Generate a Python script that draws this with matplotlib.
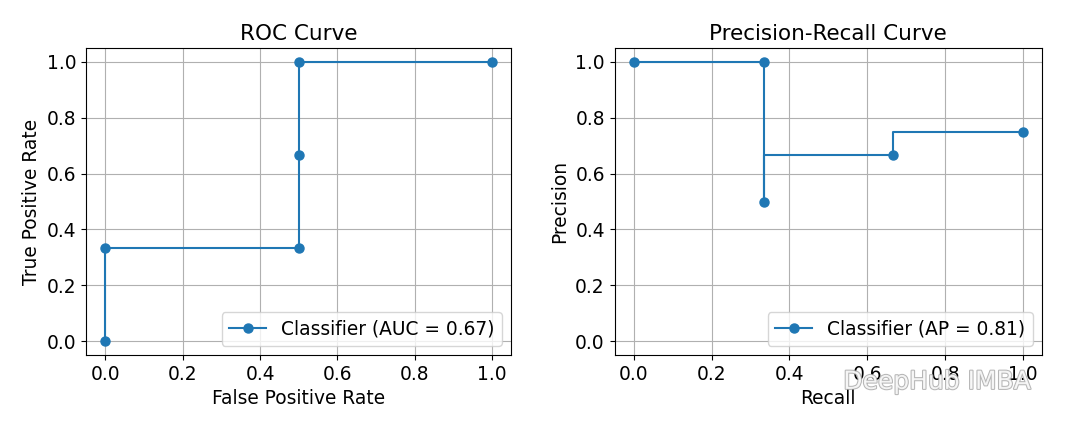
import matplotlib.pyplot as plt
import matplotlib.patheffects as pe

# ROC curve points
fpr = [0.0, 0.0, 0.5, 0.5, 0.5, 1.0]
tpr = [0.0, 1/3, 1/3, 2/3, 1.0, 1.0]
roc_auc = 0.67

# Precision-recall points (sklearn order)
recall = [1.0, 2/3, 1/3, 1/3, 0.0]
precision = [0.75, 2/3, 0.5, 1.0, 1.0]
avg_prec = 0.81

fs = 13.4
plt.rcParams['font.size'] = fs

fig = plt.figure(figsize=(10.8, 4.32), dpi=100)
ax1 = fig.add_axes([0.0796, 0.178, 0.394, 0.711])
ax2 = fig.add_axes([0.569, 0.178, 0.396, 0.711])

# ROC
ax1.plot(fpr, tpr, marker='o', color='#1f77b4', lw=1.5, ms=6.5,
         label=f'Classifier (AUC = {roc_auc:.2f})')
ax1.set_title('ROC Curve', fontsize=15.5)
ax1.set_xlabel('False Positive Rate', fontsize=fs)
ax1.set_ylabel('True Positive Rate', fontsize=fs)
ax1.legend(loc='lower right', fontsize=fs)
ax1.grid(True)

# Precision-Recall
ax2.plot(recall, precision, marker='o', color='#1f77b4', lw=1.5, ms=6.5,
         drawstyle='steps-post', label=f'Classifier (AP = {avg_prec:.2f})')
ax2.set_title('Precision-Recall Curve', fontsize=15.5)
ax2.set_xlabel('Recall', fontsize=fs)
ax2.set_ylabel('Precision', fontsize=fs)
ax2.legend(loc='lower right', fontsize=fs)
ax2.grid(True)

for ax in (ax1, ax2):
    ax.set_xlim(-0.05, 1.05)
    ax.set_ylim(-0.05, 1.05)
    ax.tick_params(labelsize=fs)

# watermark
fig.text(0.955, 0.116, 'DeepHub IMBA', fontsize=18, color='white', alpha=0.85,
         ha='right', va='center',
         path_effects=[pe.withStroke(linewidth=1.5, foreground='#aaaaaa')])

fig.savefig('out.png', dpi=100)
